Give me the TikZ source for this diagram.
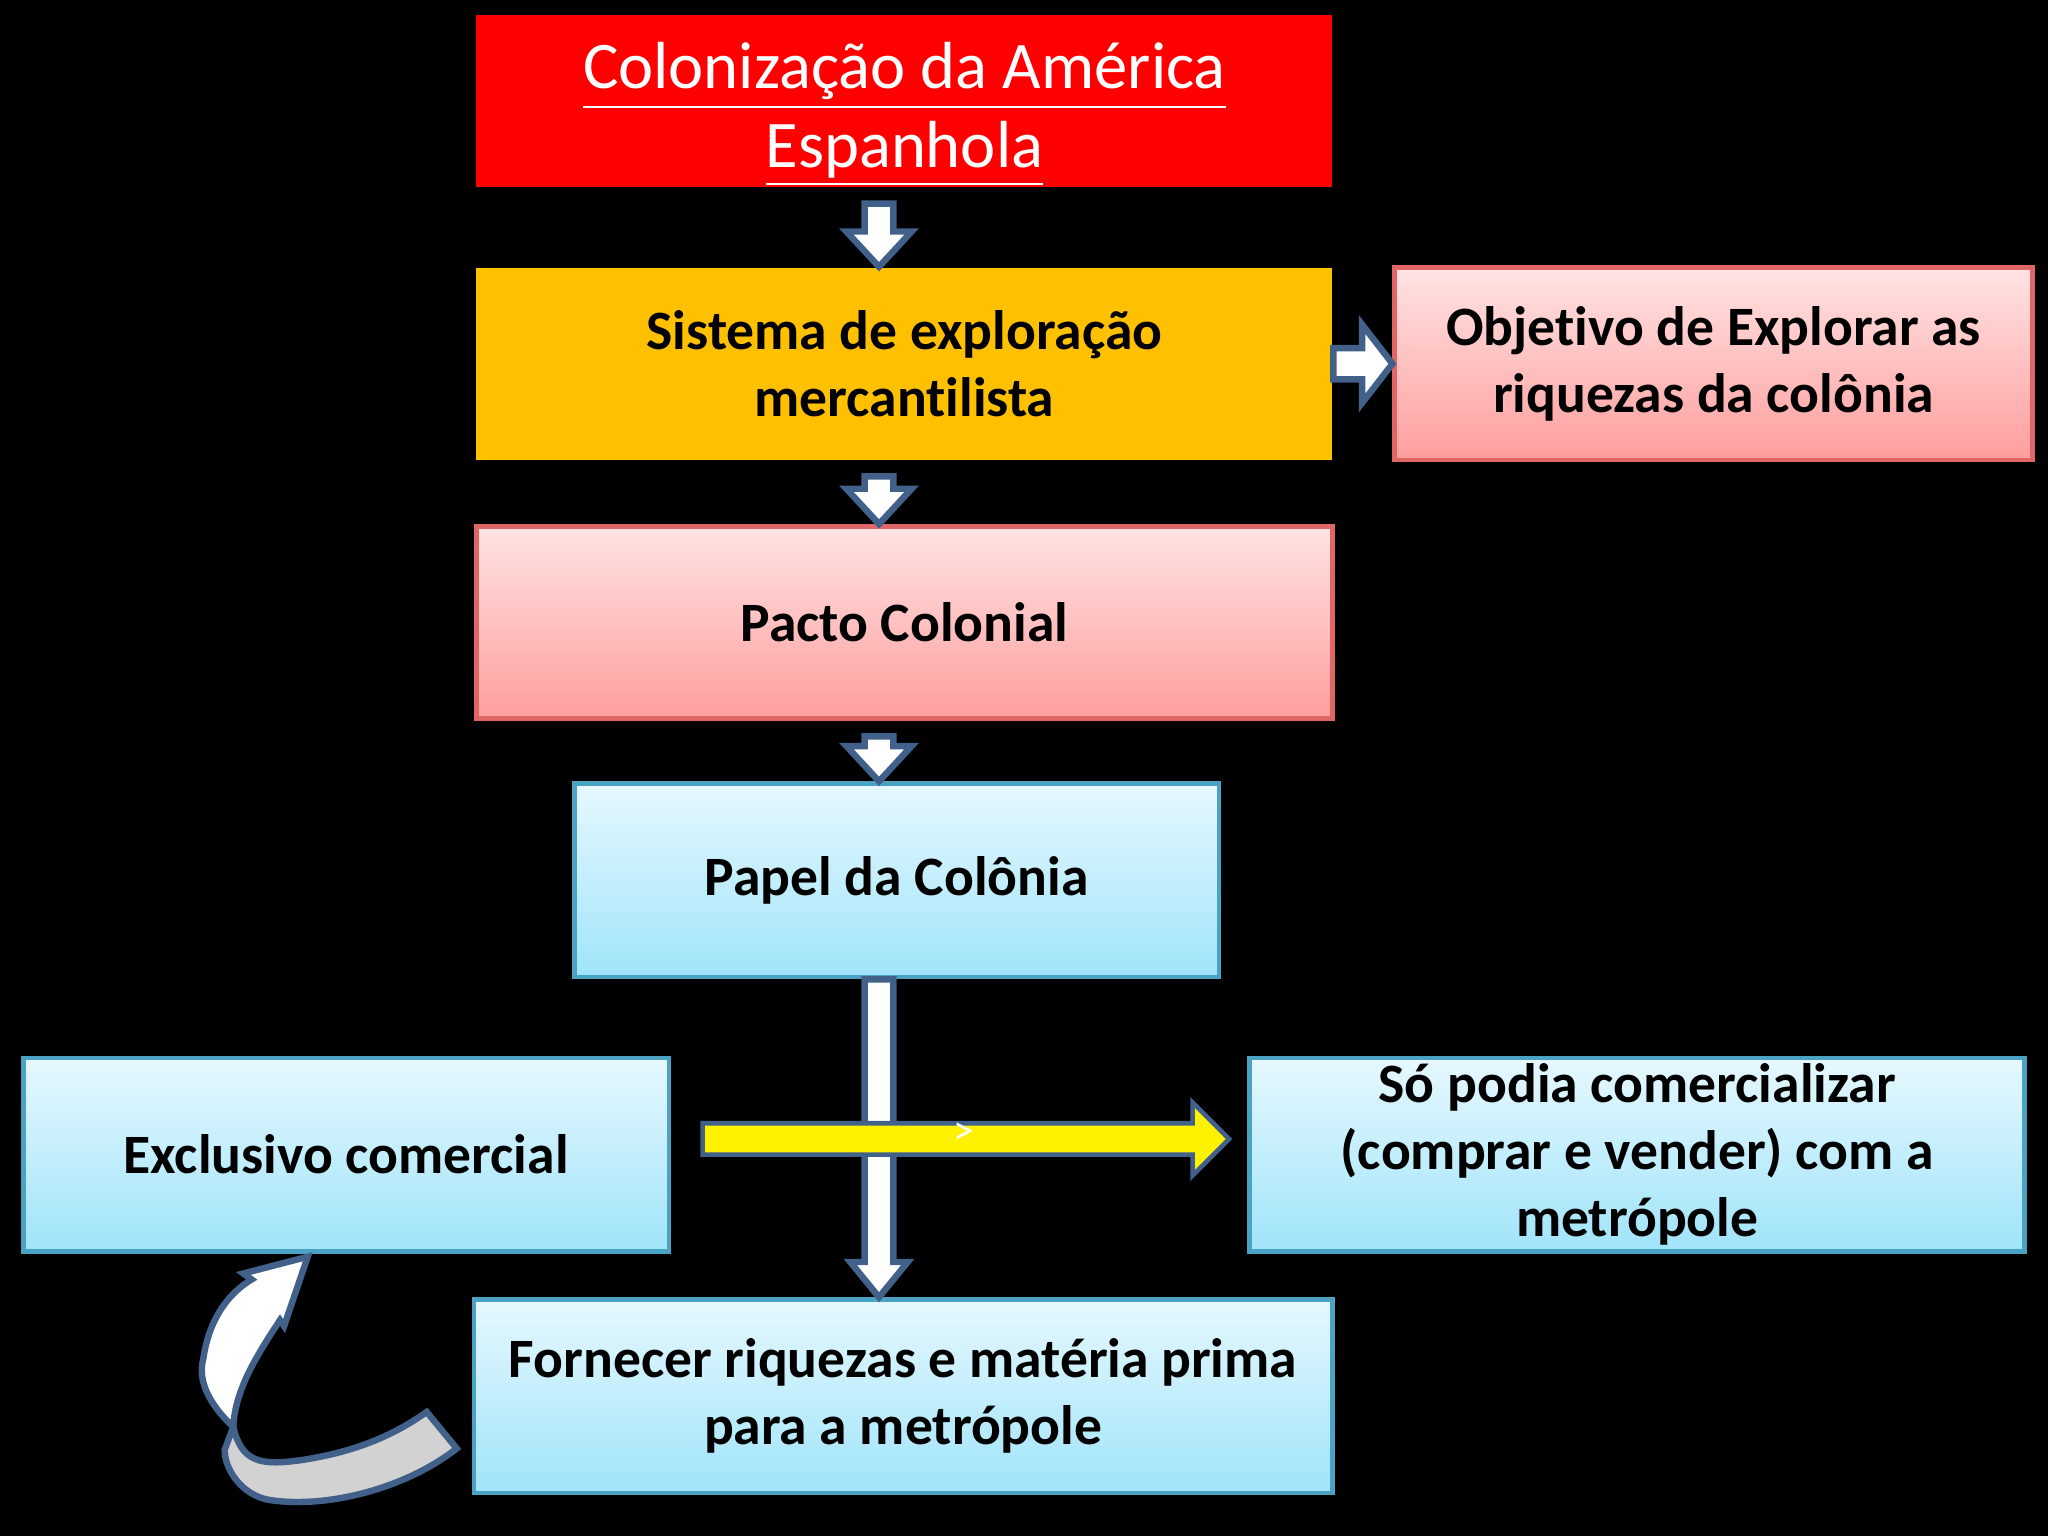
\documentclass[tikz,border=0pt]{standalone}
\usepackage{fontspec}
\setmainfont{Carlito}[RawFeature={-liga;-dlig;-clig}]
\usetikzlibrary{calc}
\definecolor{arrowline}{HTML}{41608A}
\definecolor{gold}{HTML}{FFC000}
\definecolor{pinktop}{HTML}{FFE3E3}
\definecolor{pinkbot}{HTML}{FF9E9E}
\definecolor{pinkline}{HTML}{E06666}
\definecolor{bluetop}{HTML}{E6F8FE}
\definecolor{bluebot}{HTML}{A0E4FA}
\definecolor{blueline}{HTML}{4BA3C3}
\tikzset{
  box/.style={rectangle, align=center, font=\fontsize{12.1}{14.6}\selectfont\bfseries, inner sep=0pt},
  pinkbox/.style={box, draw=pinkline, line width=1pt, top color=pinktop, bottom color=pinkbot},
  bluebox/.style={box, draw=blueline, line width=1pt, top color=bluetop, bottom color=bluebot},
  blk/.style={draw=arrowline, line width=1.4pt, fill=white, line join=miter},
}
\newcommand{\downblk}[2]{% from, to
  \draw[blk] ($(ax |- #1.south)+(-11,12)$) -- ($(ax |- #2.north)+(-11,-27)$) -- ($(ax |- #2.north)+(-25,-27)$)
    -- (ax |- #2.north) -- ($(ax |- #2.north)+(25,-27)$) -- ($(ax |- #2.north)+(11,-27)$) -- ($(ax |- #1.south)+(11,12)$) -- cycle;}
\begin{document}
\begin{tikzpicture}[x=0.01cm,y=-0.01cm]
\fill[black] (0,0) rectangle (1568,1176);
\useasboundingbox (0,0) rectangle (1568,1176);
% boxes
\node[box, fill=red, minimum width=6.55cm, minimum height=1.31cm, text=white,
  font=\fontsize{14.5}{17}\selectfont] (title) at (692.5,77.5)
  {\rule{0pt}{16pt}\underline{Colonização da América}\\\underline{Espanhola}};
\node[box, fill=gold, minimum width=6.55cm, minimum height=1.47cm] (sist) at (692.5,278.5)
  {Sistema de exploração\\mercantilista};
\node[pinkbox, minimum width=4.88cm, minimum height=1.47cm] (obj) at (1312,278.5)
  {Objetivo de Explorar as\\riquezas da colônia};
\node[pinkbox, minimum width=6.55cm, minimum height=1.47cm] (pacto) at (692.5,476.5) {Pacto Colonial};
\node[bluebox, minimum width=4.93cm, minimum height=1.48cm] (papel) at (686.5,674) {Papel da Colônia};
\node[bluebox, minimum width=4.94cm, minimum height=1.48cm] (excl) at (265,884) {Exclusivo comercial};
\node[bluebox, minimum width=5.93cm, minimum height=1.48cm] (so) at (1253.5,884)
  {Só podia comercializar\\(comprar e vender) com a\\metrópole};
\node[bluebox, minimum width=6.57cm, minimum height=1.48cm] (forn) at (691.5,1069)
  {Fornecer riquezas e matéria prima\\para a metrópole};
% block arrows
\coordinate (ax) at (673,0);
\downblk{title}{sist}
\downblk{sist}{pacto}
\downblk{pacto}{papel}
\draw[blk] ($(ax |- papel.south)+(-11,0)$) -- ($(ax |- forn.north)+(-11,-27)$) -- ($(ax |- forn.north)+(-22,-27)$)
  -- (ax |- forn.north) -- ($(ax |- forn.north)+(22,-27)$) -- ($(ax |- forn.north)+(11,-27)$) -- ($(ax |- papel.south)+(11,0)$) -- cycle;
\draw[blk] ($(sist.east)+(0,-12)$) -- ($(sist.east)+(22,-12)$) -- ($(sist.east)+(22,-30)$)
  -- (obj.west) -- ($(sist.east)+(22,30)$) -- ($(sist.east)+(22,12)$) -- ($(sist.east)+(0,12)$) -- cycle;
% yellow arrow
\coordinate (ystart) at (538,872);
\coordinate (yend) at (ystart -| so.west);
\draw[draw=arrowline, line width=1pt, fill=yellow] ($(ystart)+(0,-12)$) -- ($(yend)+(-42,-12)$) -- ($(yend)+(-42,-28)$)
  -- ($(yend)+(-14,0)$) -- ($(yend)+(-42,28)$) -- ($(yend)+(-42,12)$) -- ($(ystart)+(0,12)$) -- cycle;
\node[text=white, font=\fontsize{9}{9}\selectfont] (gt) at (738,868) {>};
% curved arrow
\draw[draw=arrowline, line width=1.4pt, fill=gray!35]
  (178.6,1092.4) .. controls (185,1120) and (200,1122) .. (230,1118)
  .. controls (270,1112) and (300,1100) .. (326.7,1081) -- (349.7,1109)
  .. controls (310,1140) and (250,1155) .. (206.7,1148.5)
  .. controls (185,1145) and (172,1125) .. (172,1110) -- cycle;
\draw[blk]
  (235.6,962.2) -- (217.5,1015.3) -- (214.4,1010.7)
  .. controls (195,1040) and (180,1065) .. (178.6,1092.4)
  .. controls (165,1080) and (150,1060) .. (155.7,1040)
  .. controls (160,1010) and (175,990) .. (192.7,979.6) -- (186.3,975) -- cycle;
\end{tikzpicture}
\end{document}
